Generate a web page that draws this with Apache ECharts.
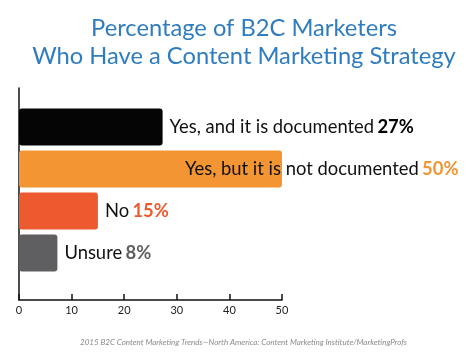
<!DOCTYPE html>
<html><head><meta charset="utf-8">
<script src="https://cdn.jsdelivr.net/npm/echarts@6/dist/echarts.min.js"></script>
<style>html,body{margin:0;padding:0;background:#fff}#c{width:474px;height:358px}</style>
</head><body><div id="c"></div>
<script>
const titleLines = ['Percentage of B2C Marketers', 'Who Have a Content Marketing Strategy'];
const categories = ['Yes, and it is documented', 'Yes, but it is not documented', 'No', 'Unsure'];
const values = [27.3, 50, 15, 7.3];
const valueLabels = ['27%', '50%', '15%', '8%'];
const barColors = ['#050505', '#F29532', '#EE5A2F', '#5F5F61'];
const xTicks = [0, 10, 20, 30, 40, 50];
const source = '2015 B2C Content Marketing Trends\u2014North America: Content Marketing Institute/MarketingProfs';

const chart = echarts.init(document.getElementById('c'));
const rev = (a) => a.slice().reverse();
const cats = rev(categories);
const vals = rev(values), labs = rev(valueLabels), cols = rev(barColors);
const labelOffsets = [[0,0],[-104,0],[0,0],[0,0]];
const offs = rev(labelOffsets);
const valueColors = ['#000', '#F29532', '#EE5A2F', '#5F5F61'];
const vcols = rev(valueColors);

const rich = { t: { fontFamily: 'Lato', fontSize: 18.4, color: '#111' } };
vcols.forEach((c, i) => { rich['v' + i] = { fontFamily: 'Lato', fontSize: 18.4, fontWeight: 'bold', color: c }; });

chart.setOption({
  animation: false,
  title: [{
    text: titleLines.join('\n'), left: 239, textAlign: 'center', top: 9,
    textStyle: { color: '#2F7CBF', fontFamily: 'Lato', fontWeight: 'normal', fontSize: 23.7, lineHeight: 28 }
  }, {
    text: source, left: 75, top: 333,
    textStyle: { color: '#8a8a8a', fontFamily: 'Lato', fontStyle: 'italic', fontWeight: 'normal', fontSize: 8 }
  }],
  grid: [
    { left: 19, right: 192, top: 106, bottom: 84 },
    { left: 19, right: 192, top: 88, bottom: 58 }
  ],
  xAxis: [
    { gridIndex: 0, type: 'value', min: 0, max: 50, show: false },
    { gridIndex: 1, type: 'value', min: 0, max: 50, interval: 10,
      axisLine: { show: true, lineStyle: { color: '#111', width: 1.5 } },
      axisTick: { show: true, inside: true, length: 6, lineStyle: { color: '#111', width: 1.5 } },
      axisLabel: { color: '#222', fontFamily: 'Lato', fontSize: 11, margin: 5 },
      splitLine: { show: false } }
  ],
  yAxis: [
    { gridIndex: 0, type: 'category', data: cats, show: false },
    { gridIndex: 1, type: 'value', min: 0, max: 1,
      axisLine: { show: true, lineStyle: { color: '#111', width: 1.5 } },
      axisTick: { show: false }, axisLabel: { show: false }, splitLine: { show: false } }
  ],
  series: [{
    type: 'bar', xAxisIndex: 0, yAxisIndex: 0, barWidth: 37,
    data: vals.map((v, i) => ({
      value: v,
      itemStyle: { color: cols[i], borderRadius: 3 },
      label: {
        show: true, position: 'right', distance: 7, offset: offs[i],
        formatter: () => '{t|' + cats[i] + '} {v' + i + '|' + labs[i] + '}', rich: rich
      }
    }))
  }]
});
</script></body></html>
